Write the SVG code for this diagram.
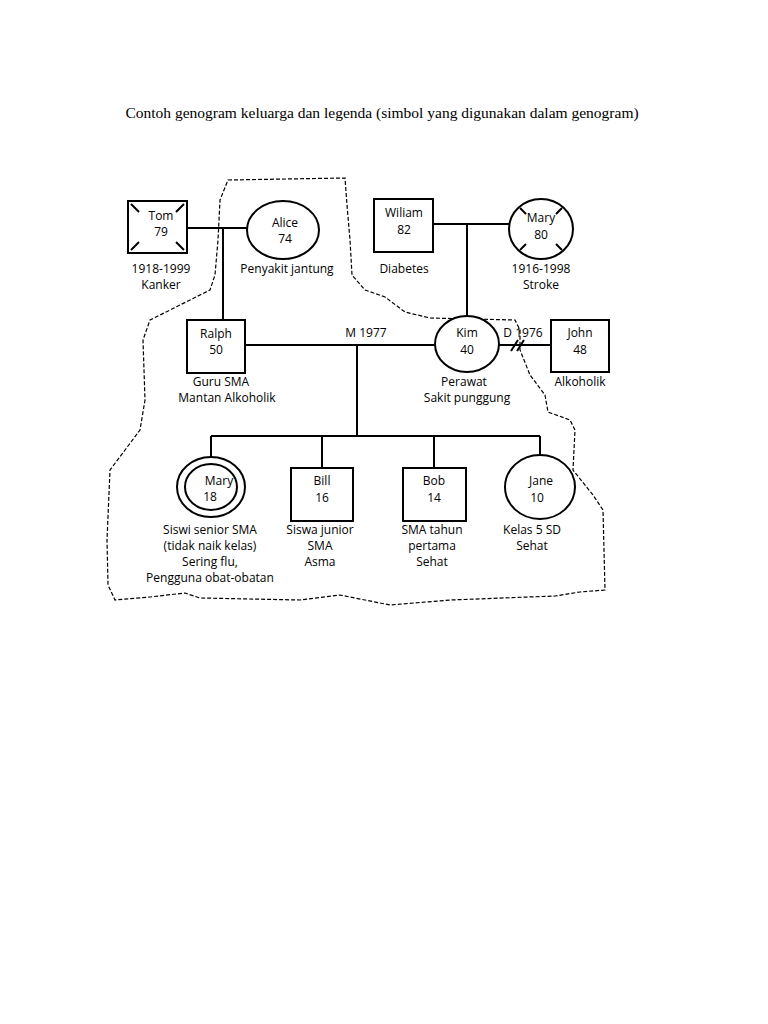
<svg xmlns="http://www.w3.org/2000/svg" width="768" height="1024" viewBox="0 0 768 1024">
<style>
.s{fill:#fff;stroke:#000;stroke-width:2}
.l{stroke:#000;stroke-width:2;fill:none}
.t{font-family:"Open Sans","Liberation Sans",sans-serif;font-size:12px;text-anchor:middle;fill:#000}
.ti{font-family:"Liberation Serif",serif;font-size:15.5px;text-anchor:middle;fill:#000}
</style>
<rect width="768" height="1024" fill="#fff"/>
<text class="ti" x="382" y="118">Contoh genogram keluarga dan legenda (simbol yang digunakan dalam genogram)</text>
<path d="M228,180 L345,178 L347,205 L350,240 L352,275 L365,290 L385,297 L405,312 L430,318 L515,320 L520,330 L520,350 L530,375 L545,395 L548,412 L570,420 L575,430 L573,470 L593,495 L603,510 L605,590 L580,592 L555,596 L450,600 L390,605 L340,595 L300,600 L200,598 L185,593 L150,597 L115,600 L108,585 L107,540 L110,470 L140,430 L145,400 L143,340 L150,320 L180,305 L210,290 L215,275 L218,240 L220,200 Z" fill="none" stroke="#000" stroke-width="1.2" stroke-dasharray="4,2"/>
<g id="connectors">
<line class="l" x1="187" y1="228" x2="247" y2="228"/>
<line class="l" x1="223" y1="228" x2="223" y2="320"/>
<line class="l" x1="433" y1="224" x2="510" y2="224"/>
<line class="l" x1="467" y1="224" x2="467" y2="316"/>
<line class="l" x1="245" y1="345" x2="435" y2="345"/>
<line class="l" x1="499" y1="345" x2="551" y2="345"/>
<line class="l" x1="511" y1="351" x2="518" y2="340"/>
<line class="l" x1="517" y1="351" x2="524" y2="340"/>
<line class="l" x1="357" y1="345" x2="357" y2="436"/>
<line class="l" x1="211" y1="436" x2="540" y2="436"/>
<line class="l" x1="211" y1="436" x2="211" y2="457"/>
<line class="l" x1="322" y1="436" x2="322" y2="468"/>
<line class="l" x1="434" y1="436" x2="434" y2="468"/>
<line class="l" x1="540" y1="436" x2="540" y2="455"/>
</g>
<g id="tom"><rect class="s" x="128" y="201" width="59" height="52"/>
<path class="l" d="M131,204 l8,8 M184,204 l-8,8 M131,250 l8,-8 M184,250 l-8,-8" stroke-width="1.5"/>
<text class="t" x="161" y="220">Tom</text><text class="t" x="161" y="236">79</text>
<text class="t" x="161" y="273">1918-1999</text><text class="t" x="161" y="289">Kanker</text></g>
<g id="alice"><ellipse class="s" cx="283" cy="230" rx="36" ry="29"/>
<text class="t" x="285" y="227">Alice</text><text class="t" x="285" y="243">74</text>
<text class="t" x="287" y="273">Penyakit jantung</text></g>
<g id="wiliam"><rect class="s" x="374" y="199" width="59" height="53"/>
<text class="t" x="404" y="217">Wiliam</text><text class="t" x="404" y="234">82</text>
<text class="t" x="404" y="273">Diabetes</text></g>
<g id="mary-gm"><ellipse class="s" cx="541" cy="229" rx="32" ry="30"/>
<path class="l" d="M520,208 l6,6 M562,208 l-6,6 M520,250 l6,-6 M562,250 l-6,-6" stroke-width="1.5"/>
<text class="t" x="541" y="222">Mary</text><text class="t" x="541" y="239">80</text>
<text class="t" x="541" y="273">1916-1998</text><text class="t" x="541" y="289">Stroke</text></g>
<g id="ralph"><rect class="s" x="187" y="320" width="58" height="53"/>
<text class="t" x="216" y="338">Ralph</text><text class="t" x="216" y="354">50</text>
<text class="t" x="221" y="386">Guru SMA</text><text class="t" x="227" y="402">Mantan Alkoholik</text></g>
<text class="t" x="366" y="337">M 1977</text>
<g id="kim"><ellipse class="s" cx="467" cy="344" rx="32" ry="28"/>
<text class="t" x="467" y="337">Kim</text><text class="t" x="467" y="354">40</text>
<text class="t" x="464" y="386">Perawat</text><text class="t" x="467" y="402">Sakit punggung</text></g>
<g id="john"><rect class="s" x="551" y="320" width="58" height="52"/>
<text class="t" x="580" y="337">John</text><text class="t" x="580" y="354">48</text>
<text class="t" x="580" y="386">Alkoholik</text></g>
<text class="t" x="523" y="337" font-size="11.5">D 1976</text>
<g id="mary"><ellipse class="s" cx="211" cy="487" rx="34" ry="30"/><ellipse class="s" cx="211" cy="487" rx="26" ry="23"/>
<text class="t" x="219" y="485">Mary</text><text class="t" x="210" y="501">18</text>
<text class="t" x="210" y="534">Siswi senior SMA</text><text class="t" x="210" y="550">(tidak naik kelas)</text>
<text class="t" x="210" y="566">Sering flu,</text><text class="t" x="210" y="582">Pengguna obat-obatan</text></g>
<g id="bill"><rect class="s" x="291" y="468" width="62" height="53"/>
<text class="t" x="322" y="485">Bill</text><text class="t" x="322" y="502">16</text>
<text class="t" x="320" y="534">Siswa junior</text><text class="t" x="320" y="550">SMA</text><text class="t" x="320" y="566">Asma</text></g>
<g id="bob"><rect class="s" x="403" y="468" width="63" height="53"/>
<text class="t" x="434" y="485">Bob</text><text class="t" x="434" y="502">14</text>
<text class="t" x="432" y="534">SMA tahun</text><text class="t" x="432" y="550">pertama</text><text class="t" x="432" y="566">Sehat</text></g>
<g id="jane"><ellipse class="s" cx="540" cy="487" rx="35" ry="32"/>
<text class="t" x="541" y="485">Jane</text><text class="t" x="537" y="502">10</text>
<text class="t" x="532" y="534">Kelas 5 SD</text><text class="t" x="532" y="550">Sehat</text></g>
</svg>
